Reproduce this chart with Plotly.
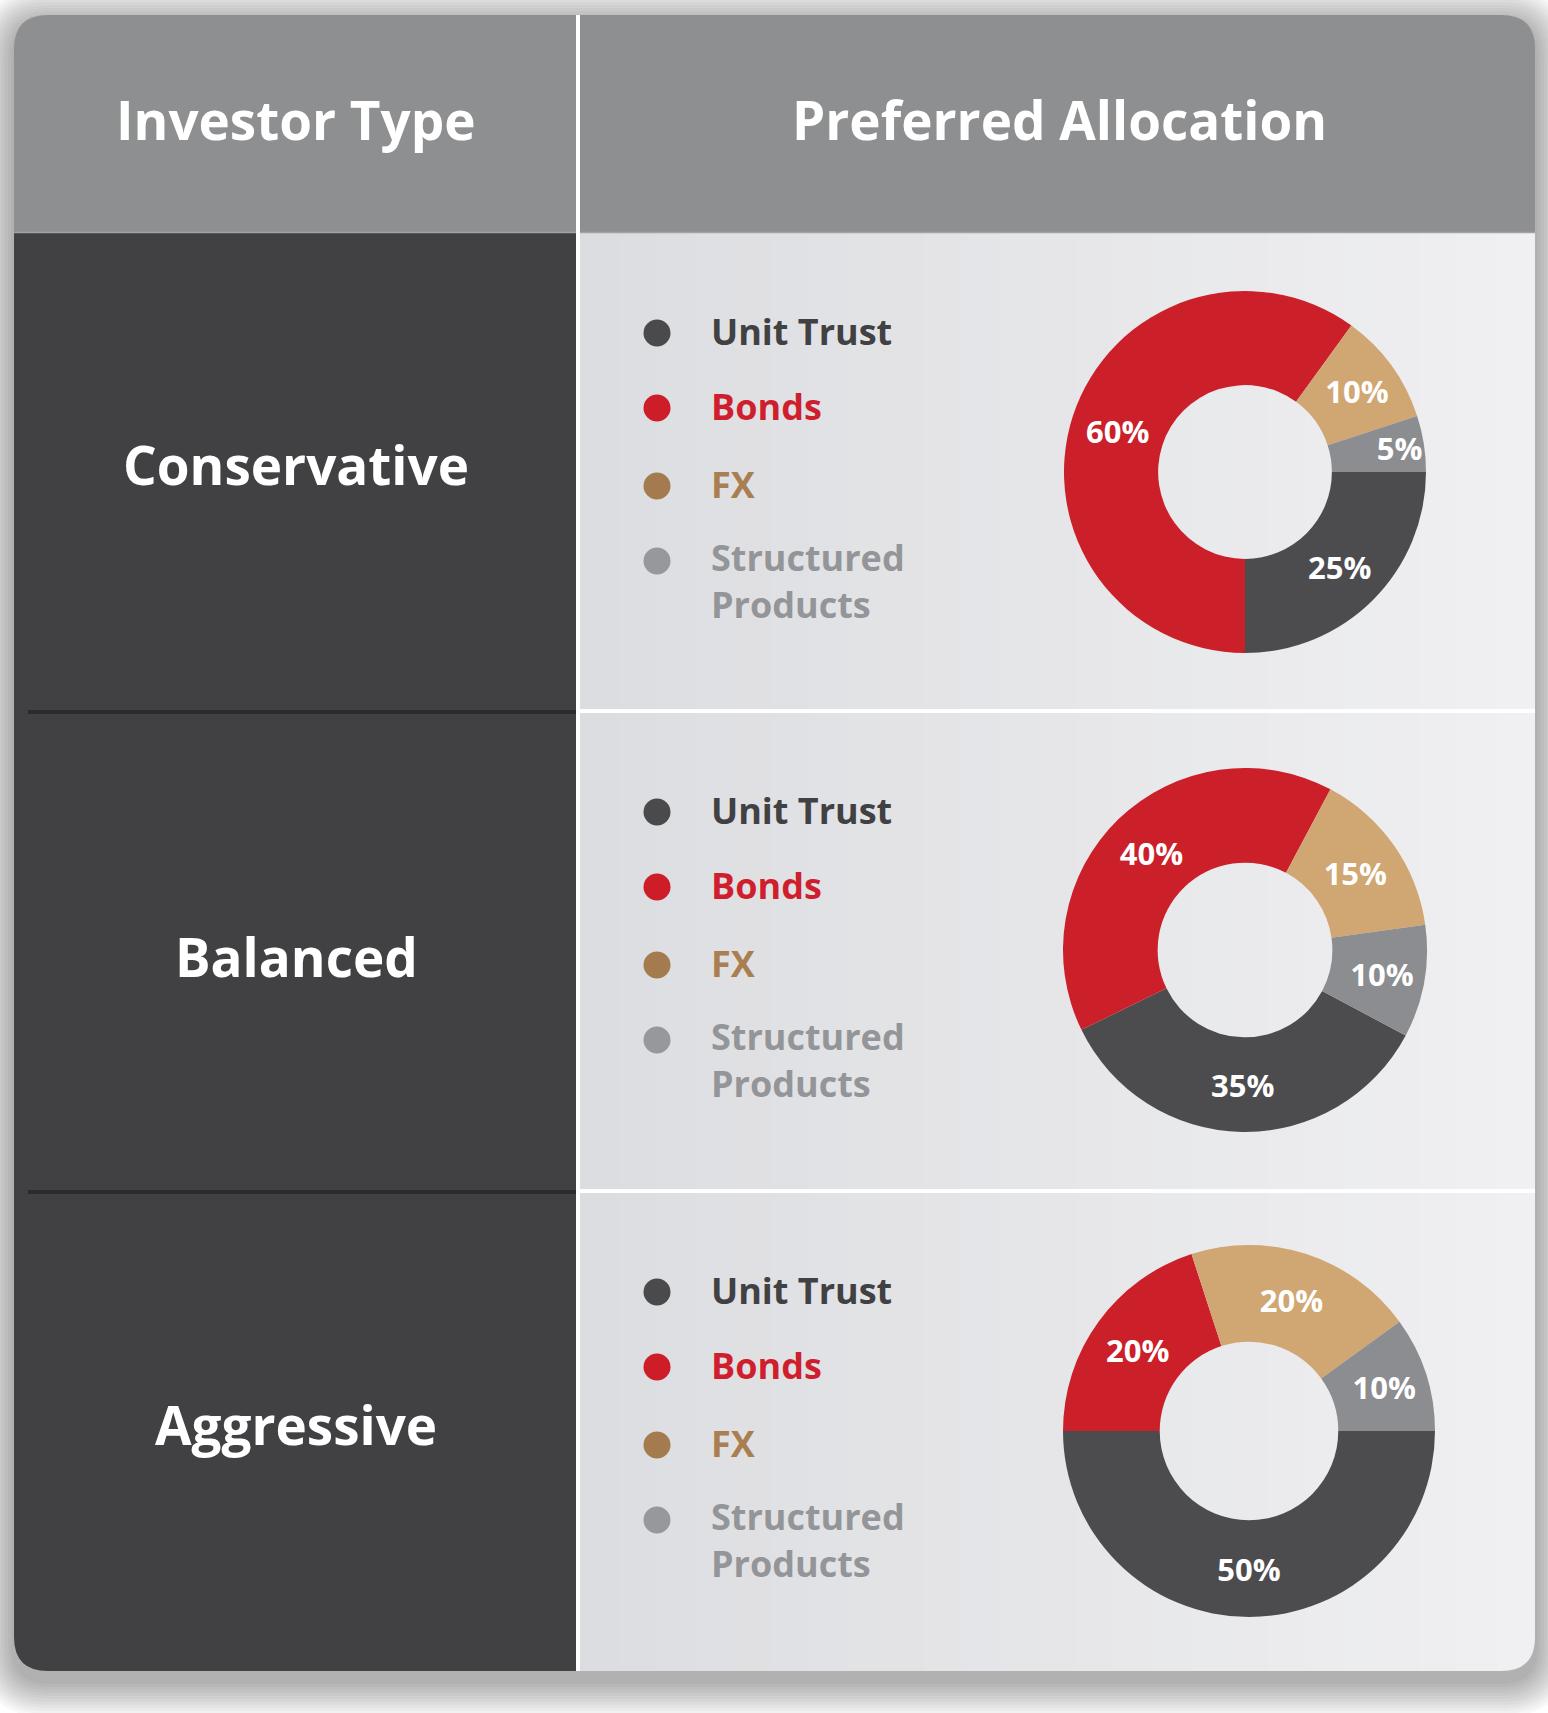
import plotly.graph_objects as go

# ---------------- data ----------------
investor_types = ["Conservative", "Balanced", "Aggressive"]
asset_classes = ["Unit Trust", "Bonds", "FX", "Structured Products"]
conservative_alloc = [25, 60, 10, 5]
balanced_alloc = [35, 40, 15, 10]
aggressive_alloc = [50, 20, 20, 10]
allocations = [conservative_alloc, balanced_alloc, aggressive_alloc]
header_labels = ["Investor Type", "Preferred Allocation"]

# ---------------- style ----------------
W, H = 1548, 1713
FONT = "Open Sans"
slice_colors = ["#4c4c4f", "#cb1f2a", "#d0a672", "#8c8d90"]
legend_text_colors = ["#414143", "#cf1f2e", "#a97f52", "#939598"]
legend_dot_colors = ["#4a4a4d", "#cc1d29", "#a47b4f", "#97989b"]

CX0, CX1, CX2 = 14, 576, 580
CR = 1535
CT, CB = 15, 1671
HEAD_B = 232
row_tops = [232, 711, 1191]
row_bots = [711, 1191, 1671]
label_y = [464, 956, 1424]
pie_geo = [(1245, 472, 181), (1245, 950, 182), (1249, 1431, 186)]
rotations = [90, 118, 90]
RAD = 34


def rpath(x0, y0, x1, y1, tl=0, tr=0, br=0, bl=0):
    p = f"M {x0+tl},{y0} L {x1-tr},{y0} "
    p += f"Q {x1},{y0} {x1},{y0+tr} " if tr else ""
    p += f"L {x1},{y1-br} "
    p += f"Q {x1},{y1} {x1-br},{y1} " if br else ""
    p += f"L {x0+bl},{y1} "
    p += f"Q {x0},{y1} {x0},{y1-bl} " if bl else ""
    p += f"L {x0},{y0+tl} "
    p += f"Q {x0},{y0} {x0+tl},{y0} " if tl else ""
    return p + "Z"


def lerp_color(c0, c1, t):
    a = [int(c0[i:i + 2], 16) for i in (1, 3, 5)]
    b = [int(c1[i:i + 2], 16) for i in (1, 3, 5)]
    return "rgb(%d,%d,%d)" % tuple(round(a[k] + (b[k] - a[k]) * t) for k in range(3))


shapes = []
# drop shadow
for i in range(12):
    e = 3 + i * 3
    shapes.append(dict(type="path", xref="x", yref="y", layer="below",
                       path=rpath(CX0 - e, CT - e + 8, CR + e, CB + e + 10,
                                  RAD + e, RAD + e, RAD + e, RAD + e),
                       fillcolor="rgba(0,0,0,0.026)", line=dict(width=0)))
# header
shapes.append(dict(type="path", xref="x", yref="y", layer="below",
                   path=rpath(CX0, CT, CR, HEAD_B, tl=RAD, tr=RAD),
                   fillcolor="#8e8f91", line=dict(width=0)))
# left body
shapes.append(dict(type="path", xref="x", yref="y", layer="below",
                   path=rpath(CX0, HEAD_B, CX1, CB, bl=RAD),
                   fillcolor="#414143", line=dict(width=0)))
# right body gradient strips
N = 25
sw = (CR - CX2) / N
for i in range(N):
    x0 = CX2 + i * sw
    x1 = CX2 + (i + 1) * sw
    col = lerp_color("#dcdde0", "#f0f0f2", (i + 0.5) / N)
    if i < N - 1:
        shapes.append(dict(type="rect", xref="x", yref="y", layer="below",
                           x0=x0, x1=x1 + 0.8, y0=HEAD_B, y1=CB,
                           fillcolor=col, line=dict(width=0)))
    else:
        shapes.append(dict(type="path", xref="x", yref="y", layer="below",
                           path=rpath(x0, HEAD_B, CR, CB, br=RAD),
                           fillcolor=col, line=dict(width=0)))
# header bottom line
shapes.append(dict(type="line", xref="x", yref="y", layer="below",
                   x0=CX0, x1=CR, y0=HEAD_B + 0.5, y1=HEAD_B + 0.5,
                   line=dict(color="#a2a3a5", width=1.5)))
# vertical white separator
shapes.append(dict(type="rect", xref="x", yref="y", layer="below",
                   x0=CX1, x1=CX2, y0=CT, y1=CB,
                   fillcolor="#ffffff", line=dict(width=0)))
# row separators
for yb in row_bots[:-1]:
    shapes.append(dict(type="rect", xref="x", yref="y", layer="below",
                       x0=28, x1=CX1, y0=yb - 1, y1=yb + 3,
                       fillcolor="#2b2b2c", line=dict(width=0)))
    shapes.append(dict(type="rect", xref="x", yref="y", layer="below",
                       x0=CX2, x1=CR, y0=yb - 2, y1=yb + 2,
                       fillcolor="#ffffff", line=dict(width=0)))

fig = go.Figure()

annotations = []
# headers
annotations.append(dict(x=296, y=119, text=header_labels[0]))
annotations.append(dict(x=1059, y=119, text=header_labels[1]))
for a in annotations:
    a.update(xref="x", yref="y", showarrow=False, xanchor="center", yanchor="middle",
             font=dict(family=FONT, size=53, color="#ffffff", weight=700))

legend_offsets = [99, 174, 252, 327]
dot_offsets = [101, 176, 254, 329]
LEG_SIZE = 36

for r, name in enumerate(investor_types):
    annotations.append(dict(x=296, y=label_y[r], text=name, xref="x", yref="y",
                            showarrow=False, xanchor="center", yanchor="middle",
                            font=dict(family=FONT, size=53, color="#ffffff", weight=700)))
    top = row_tops[r]
    # legend dots
    fig.add_trace(go.Scatter(
        x=[657] * len(asset_classes),
        y=[top + o for o in dot_offsets],
        mode="markers",
        marker=dict(size=27, color=legend_dot_colors, line=dict(width=0)),
        hoverinfo="skip", showlegend=False))
    for k, asset in enumerate(asset_classes):
        multi = " " in asset and asset == "Structured Products"
        txt = asset.replace(" ", "<br>") if multi else asset
        yy = top + legend_offsets[k] + (22 if multi else 0)
        annotations.append(dict(x=709, y=yy, text=txt, xref="x", yref="y",
                                showarrow=False, xanchor="left", yanchor="middle",
                                align="left",
                                font=dict(family=FONT, size=LEG_SIZE,
                                          color=legend_text_colors[k], weight=700)))
    # donut
    cx, cy, rad = pie_geo[r]
    vals = allocations[r]
    fig.add_trace(go.Pie(
        labels=asset_classes, values=vals,
        text=[f"{v}%" for v in vals], textinfo="text",
        textposition="inside", insidetextorientation="horizontal",
        textfont=dict(family=FONT, size=31, color="#ffffff", weight=700),
        marker=dict(colors=slice_colors, line=dict(width=0)),
        hole=0.48, sort=False, direction="clockwise", rotation=rotations[r],
        domain=dict(x=[(cx - rad) / W, (cx + rad) / W],
                    y=[1 - (cy + rad) / H, 1 - (cy - rad) / H]),
        showlegend=False, hoverinfo="label+value"))

fig.update_layout(
    width=W, height=H,
    margin=dict(l=0, r=0, t=0, b=0),
    paper_bgcolor="#ffffff", plot_bgcolor="rgba(0,0,0,0)",
    xaxis=dict(range=[0, W], visible=False, fixedrange=True, domain=[0, 1]),
    yaxis=dict(range=[H, 0], visible=False, fixedrange=True, domain=[0, 1]),
    shapes=shapes, annotations=annotations,
    uniformtext=dict(minsize=31, mode="show"),
    showlegend=False,
)

fig.write_html("out.html")
